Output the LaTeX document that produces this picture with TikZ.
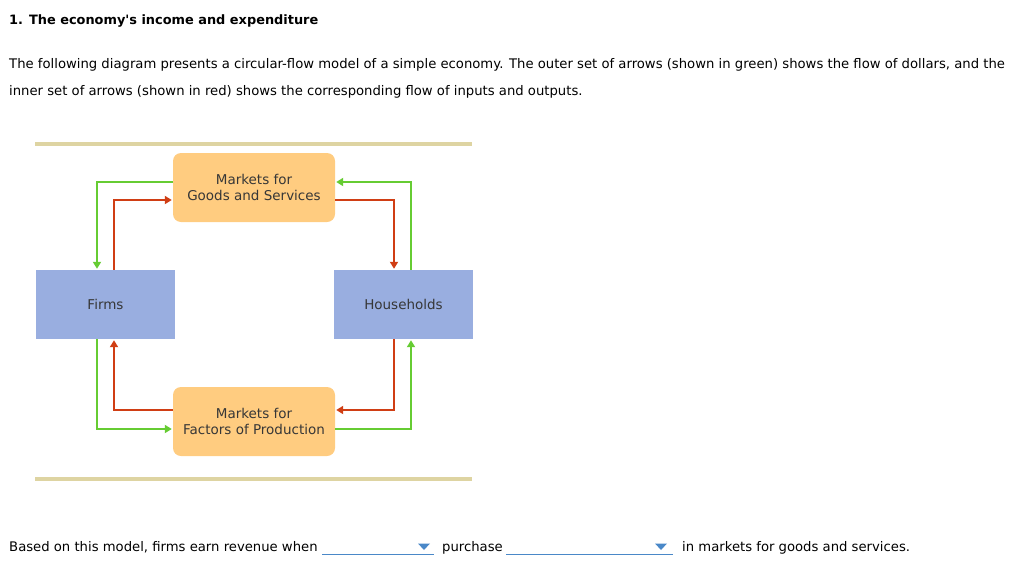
\documentclass[tikz,border=0pt]{standalone}
\usepackage{fontspec}
\setmainfont{DejaVu Sans}[Ligatures=TeXOff]
\usepackage{xcolor}
\usepackage{tikz}
\usetikzlibrary{arrows.meta, positioning}

\definecolor{flowgreen}{RGB}{102,204,51}
\definecolor{flowred}{RGB}{208,62,20}
\definecolor{marketfill}{RGB}{255,204,128}
\definecolor{agentfill}{RGB}{153,174,224}
\definecolor{ruletan}{RGB}{222,212,162}
\definecolor{dropblue}{RGB}{74,136,200}
\definecolor{labelgray}{RGB}{55,55,55}

\begin{document}
\begin{tikzpicture}[
        x=1pt, y=-1pt,
        every node/.style={inner sep=0pt, font=\fontsize{13.2}{15}\selectfont},
        market/.style={rounded corners=8pt, fill=marketfill, minimum width=162pt,
            minimum height=69pt, align=center, text=labelgray,
            font=\fontsize{13.5}{15.5}\selectfont},
        agent/.style={fill=agentfill, minimum width=139pt, minimum height=69pt,
            text=labelgray, font=\fontsize{13.5}{15}\selectfont},
        money/.style={draw=flowgreen, line width=2.8pt, -{Triangle[length=7pt, width=8pt]}},
        goods/.style={draw=flowred, line width=2.8pt, -{Triangle[length=7pt, width=8pt]}},
        textline/.style={anchor=base west}
    ]
    \useasboundingbox (0,0) rectangle (1024,565);

    % Question text
    \node[textline, font=\bfseries\fontsize{12.9}{15}\selectfont] (title) at (9,24)
        {1. The economy's income and expenditure};
    \node[textline] (para1) at (9,68)
        {The following diagram presents a circular-flow model of a simple economy. The outer set of arrows (shown in green) shows the flow of dollars, and the};
    \node[textline] (para2) at (9,95)
        {inner set of arrows (shown in red) shows the corresponding flow of inputs and outputs.};

    % Rules above and below the diagram
    \draw[ruletan, line width=4pt] (35,144) -- (472,144);
    \draw[ruletan, line width=4pt] (35,479) -- (472,479);

    % Boxes
    \node[market] (goods) at (254,187.5) {Markets for\\Goods and Services};
    \node[market] (factors) at (254,421.5) {Markets for\\Factors of Production};
    \node[agent] (firms) at (105.5,304.5) {Firms};
    \node[agent] (households) at (403.5,304.5) {Households};

    % Outer flow of dollars
    \draw[money] ([yshift=5.5pt]goods.west) -| ([xshift=-8.5pt, yshift=1pt]firms.north);
    \draw[money] ([xshift=7.5pt]households.north) |- ([yshift=5.5pt, xshift=1pt]goods.east);
    \draw[money] ([xshift=-8.5pt]firms.south) |- ([yshift=-7.5pt, xshift=-1pt]factors.west);
    \draw[money] ([yshift=-7.5pt]factors.east) -| ([xshift=7.5pt, yshift=-1pt]households.south);

    % Inner flow of inputs and outputs
    \draw[goods] ([xshift=8.5pt]firms.north) |- ([yshift=-12.5pt, xshift=-1pt]goods.west);
    \draw[goods] ([yshift=-12.5pt]goods.east) -| ([xshift=-9.5pt, yshift=1pt]households.north);
    \draw[goods] ([xshift=-9.5pt]households.south) |- ([yshift=11.5pt, xshift=1pt]factors.east);
    \draw[goods] ([yshift=11.5pt]factors.west) -| ([xshift=8.5pt, yshift=-1pt]firms.south);

    % Answer sentence with drop-downs
    \node[textline] (ask1) at (9,551) {Based on this model, firms earn revenue when};
    \draw[dropblue, line width=1.2pt] (322,554.5) -- (434,554.5);
    \fill[dropblue] (418,543.5) -- (430,543.5) -- (424,550) -- cycle;
    \node[textline] (ask2) at (442,551) {purchase};
    \draw[dropblue, line width=1.2pt] (506,554.5) -- (673,554.5);
    \fill[dropblue] (655,543.5) -- (667,543.5) -- (661,550) -- cycle;
    \node[textline] (ask3) at (682,551) {in markets for goods and services.};

\end{tikzpicture}
\end{document}
